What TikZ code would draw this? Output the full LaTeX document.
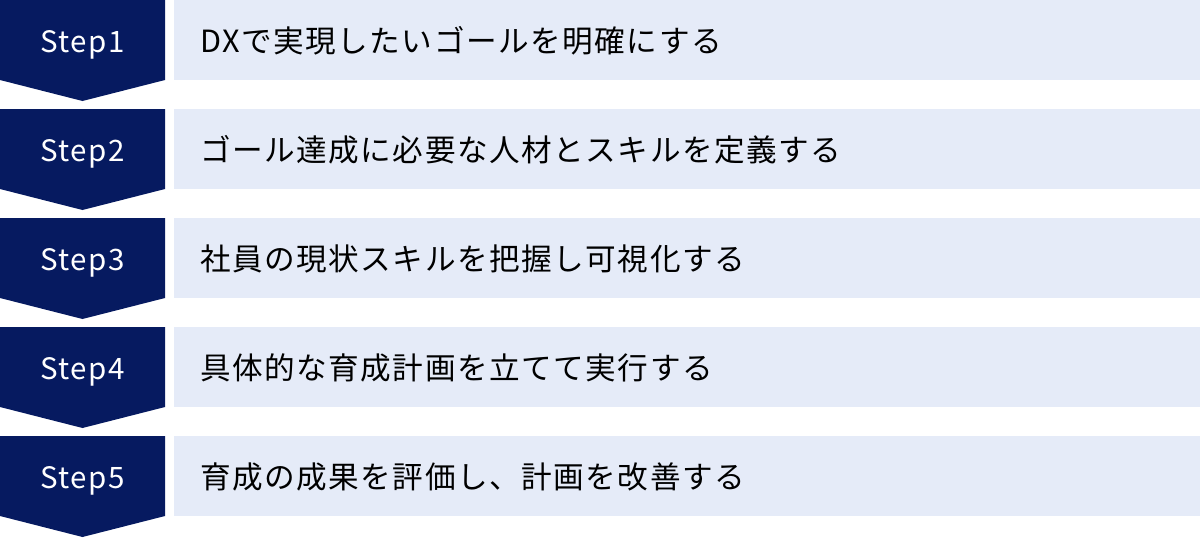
\documentclass[tikz,border=0pt]{standalone}
\usepackage{fontspec}
\setmainfont{Noto Sans CJK JP}
\newfontfamily\jpfont[LetterSpace=5]{Noto Sans CJK JP}
\definecolor{navy}{HTML}{061A60}
\definecolor{pale}{HTML}{E5EBF8}
\tikzset{
  steplabel/.style={anchor=base, inner sep=0pt, text=white, font=\jpfont\fontsize{29.5pt}{34pt}\selectfont},
  boxtext/.style={anchor=base west, inner sep=0pt, text=black, font=\jpfont\fontsize{30.6pt}{36pt}\selectfont},
  stepshape/.style={fill=navy},
  boxshape/.style={fill=pale}
}
\begin{document}
\begin{tikzpicture}[x=1pt,y=-1pt]
\useasboundingbox (0,0) rectangle (1200,538);
\foreach \i/\t in {1/{DXで実現したいゴールを明確にする},
                   2/{ゴール達成に必要な人材とスキルを定義する},
                   3/{社員の現状スキルを把握し可視化する},
                   4/{具体的な育成計画を立てて実行する},
                   5/{育成の成果を評価し、計画を改善する}} {
  \pgfmathsetmacro\tp{(\i-1)*109}
  \fill[stepshape] (0,\tp) -- (165,\tp) -- (165,\tp+80) -- (82.5,\tp+101) -- (0,\tp+80) -- cycle;
  \fill[boxshape] (174,\tp) rectangle (1200,\tp+80);
  \node[steplabel] (s\i) at (82.5,\tp+52) {Step\i};
  \node[boxtext] (t\i) at (200,\tp+52) {\t};
}
\end{tikzpicture}
\end{document}
